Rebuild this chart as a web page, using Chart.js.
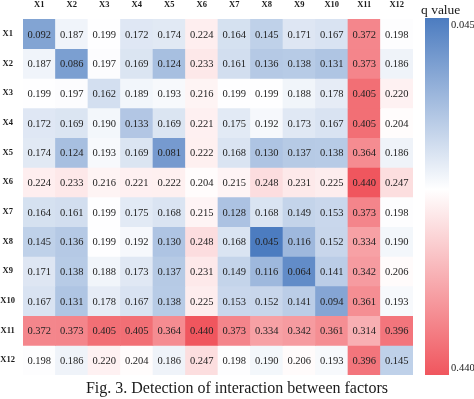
<!DOCTYPE html>
<html>
<head>
<meta charset="utf-8">
<script src="https://cdn.jsdelivr.net/npm/chart.js@4/dist/chart.umd.min.js"></script>
<style>
  html, body { margin: 0; padding: 0; background: #fff; }
  #heat { display: block; }
</style>
</head>
<body>
<canvas id="heat" width="474" height="399"></canvas>
<script>
"use strict";
var factors = ["X1", "X2", "X3", "X4", "X5", "X6", "X7", "X8", "X9", "X10", "X11", "X12"];
var rowX1 = [0.092, 0.187, 0.199, 0.172, 0.174, 0.224, 0.164, 0.145, 0.171, 0.167, 0.372, 0.198];
var rowX2 = [0.187, 0.086, 0.197, 0.169, 0.124, 0.233, 0.161, 0.136, 0.138, 0.131, 0.373, 0.186];
var rowX3 = [0.199, 0.197, 0.162, 0.189, 0.193, 0.216, 0.199, 0.199, 0.188, 0.178, 0.405, 0.220];
var rowX4 = [0.172, 0.169, 0.190, 0.133, 0.169, 0.221, 0.175, 0.192, 0.173, 0.167, 0.405, 0.204];
var rowX5 = [0.174, 0.124, 0.193, 0.169, 0.081, 0.222, 0.168, 0.130, 0.137, 0.138, 0.364, 0.186];
var rowX6 = [0.224, 0.233, 0.216, 0.221, 0.222, 0.204, 0.215, 0.248, 0.231, 0.225, 0.440, 0.247];
var rowX7 = [0.164, 0.161, 0.199, 0.175, 0.168, 0.215, 0.128, 0.168, 0.149, 0.153, 0.373, 0.198];
var rowX8 = [0.145, 0.136, 0.199, 0.192, 0.130, 0.248, 0.168, 0.045, 0.116, 0.152, 0.334, 0.190];
var rowX9 = [0.171, 0.138, 0.188, 0.173, 0.137, 0.231, 0.149, 0.116, 0.064, 0.141, 0.342, 0.206];
var rowX10 = [0.167, 0.131, 0.178, 0.167, 0.138, 0.225, 0.153, 0.152, 0.141, 0.094, 0.361, 0.193];
var rowX11 = [0.372, 0.373, 0.405, 0.405, 0.364, 0.440, 0.373, 0.334, 0.342, 0.361, 0.314, 0.396];
var rowX12 = [0.198, 0.186, 0.220, 0.204, 0.186, 0.247, 0.198, 0.190, 0.206, 0.193, 0.396, 0.145];
var rows = [rowX1, rowX2, rowX3, rowX4, rowX5, rowX6, rowX7, rowX8, rowX9, rowX10, rowX11, rowX12];
var qMin = 0.045, qMid = 0.2, qMax = 0.440;
var blue = [76, 124, 192], white = [255, 255, 255], red = [240, 86, 94];

function mix(a, b, t) {
  return "rgb(" + a.map(function (c, i) { return Math.round(c + (b[i] - c) * t) }).join(",") + ")"
}
function qColor(v) {
  if (v <= qMid) return mix(white, blue, Math.min(1, (qMid - v) / (qMid - qMin)));
  return mix(white, red, Math.min(1, (v - qMid) / (qMax - qMid)))
}

var serif = "'Liberation Serif', 'Times New Roman', serif";

var cellText = {
  id: "cellText",
  afterDatasetsDraw: function (chart) {
    var ctx = chart.ctx;
    ctx.save();
    ctx.font = "10.5px " + serif;
    ctx.fillStyle = "#222";
    ctx.textAlign = "center";
    ctx.textBaseline = "middle";
    chart.data.datasets.forEach(function (ds, r) {
      chart.getDatasetMeta(r).data.forEach(function (bar, c) {
        ctx.fillText(ds.values[c].toFixed(3), bar.x, (bar.y + bar.base) / 2 + 1)
      })
    });
    ctx.restore()
  }
};

// colour key on the right plus the figure caption
var colorBar = {
  id: "colorBar",
  afterDraw: function (chart) {
    var ctx = chart.ctx, a = chart.chartArea;
    var x0 = 425, w = 24, top = a.top - 1, bot = a.bottom;
    var g = ctx.createLinearGradient(0, top, 0, bot);
    g.addColorStop(0, qColor(qMin));
    g.addColorStop(0.48, "#ffffff");
    g.addColorStop(1, qColor(qMax));
    ctx.save();
    ctx.fillStyle = g;
    ctx.fillRect(x0, top, w, bot - top);
    ctx.fillStyle = "#1a1a1a";
    ctx.textBaseline = "middle";
    ctx.font = "13.5px " + serif;
    ctx.fillText("q value", 421, 10);
    ctx.font = "10.5px " + serif;
    ctx.fillText(qMin.toFixed(3), 451, 25);
    ctx.fillText(qMax.toFixed(3), 451, 368);
    ctx.font = "16px " + serif;
    ctx.textAlign = "center";
    ctx.fillText("Fig. 3. Detection of interaction between factors", 237, 389);
    ctx.restore()
  }
};

var datasets = rows.map(function (vals, r) {
  return {
    label: factors[r],
    values: vals,
    data: vals.map(function () { return [r - 0.5, r + 0.5] }),
    backgroundColor: vals.map(qColor),
    borderWidth: 0,
    grouped: false,
    barPercentage: 1,
    categoryPercentage: 1
  }
});

new Chart(document.getElementById("heat"), {
  type: "bar",
  data: {labels: factors, datasets: datasets},
  options: {
    responsive: !1,
    animation: !1,
    layout: {padding: {left: 0, top: 0, right: 61, bottom: 24}},
    plugins: {legend: {display: !1}, tooltip: {enabled: !1}},
    scales: {
      x: {
        position: "top",
        grid: {display: !1, drawTicks: !1},
        border: {display: !1},
        ticks: {color: "#1a1a1a", font: {family: serif, size: 8.5, weight: "bold"}, padding: 9, maxRotation: 0},
        afterFit: function (s) { s.height = 19 }
      },
      y: {
        type: "linear",
        reverse: !0,
        min: -0.5,
        max: 11.5,
        grid: {display: !1, drawTicks: !1},
        border: {display: !1},
        afterBuildTicks: function (s) { s.ticks = factors.map(function (f, i) { return {value: i} }) },
        ticks: {
          color: "#1a1a1a",
          font: {family: serif, size: 8.5, weight: "bold"},
          padding: 8,
          crossAlign: "center",
          callback: function (v) { return factors[v] }
        },
        afterFit: function (s) { s.width = 23 }
      }
    }
  },
  plugins: [cellText, colorBar]
});
</script>
</body>
</html>
